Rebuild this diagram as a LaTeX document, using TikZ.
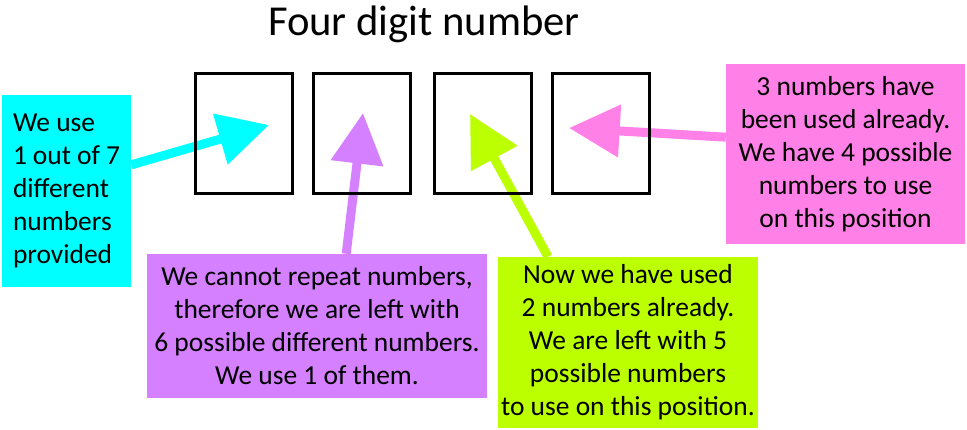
\documentclass[tikz,border=0pt]{standalone}
\usepackage{fontspec}
\setmainfont{Carlito}
\usetikzlibrary{arrows.meta,backgrounds}
\definecolor{notecyan}{RGB}{0,255,255}
\definecolor{notepurple}{RGB}{213,128,255}
\definecolor{notelime}{RGB}{187,255,0}
\definecolor{notepink}{RGB}{255,128,230}

\begin{document}
\begin{tikzpicture}[x=0.75pt, y=-0.75pt,
                    digit_box/.style={draw=black, line width=2.25pt, minimum width=72.75pt, minimum height=90pt},
                    note_box/.style={inner sep=0pt, align=center, font=\fontsize{20.6pt}{24.75pt}\selectfont},
                    big_arrow/.style={line width=6.75pt, -{Triangle[length=38pt, width=38pt]}}
                ]
                    \useasboundingbox (0,0) rectangle (967,429);
                    \node[anchor=base, font=\fontsize{32pt}{38pt}\selectfont] (title) at (424,35) {Four digit number};
                    \foreach \x [count=\i] in {244,362,483,600.5}
                        \node[digit_box] (d\i) at (\x,133) {};
                    \node[note_box, fill=notecyan, minimum width=96.75pt, minimum height=144pt,
                          text width=80.25pt, inner xsep=8.25pt, align=flush left] (use_one) at (66.5,191)
                        {We~use\\1~out~of~7\\different\\numbers\\provided};
                    \node[note_box, fill=notepurple, minimum width=255pt, minimum height=108pt] (no_repeat) at (317,326)
                        {We cannot repeat numbers,\\therefore we are left with\\6 possible different numbers.\\We use 1 of them.};
                    \node[note_box, fill=notelime, minimum width=195pt, minimum height=128.25pt] (two_used) at (628,342.5)
                        {Now we have used\\2 numbers already.\\We are left with 5\\possible numbers\\to use on this position.};
                    \node[note_box, fill=notepink, minimum width=179.25pt, minimum height=135pt] (three_used) at (845.5,154)
                        {3 numbers have\\been used already.\\We have 4 possible\\numbers to use\\on this position};
                    \coordinate (tip1) at (269,125);
                    \coordinate (tip2) at (363,113);
                    \coordinate (tip3) at (470,114);
                    \coordinate (tip4) at (569,128);
                    \begin{scope}[on background layer]
                        \draw[big_arrow, notecyan] (use_one.22) -- (tip1);
                        \draw[big_arrow, notepurple] (no_repeat.68) -- (tip2);
                        \draw[big_arrow, notelime] (two_used.133.5) -- (tip3);
                        \draw[big_arrow, notepink] (three_used.172) -- (tip4);
                    \end{scope}
                \end{tikzpicture}
\end{document}
